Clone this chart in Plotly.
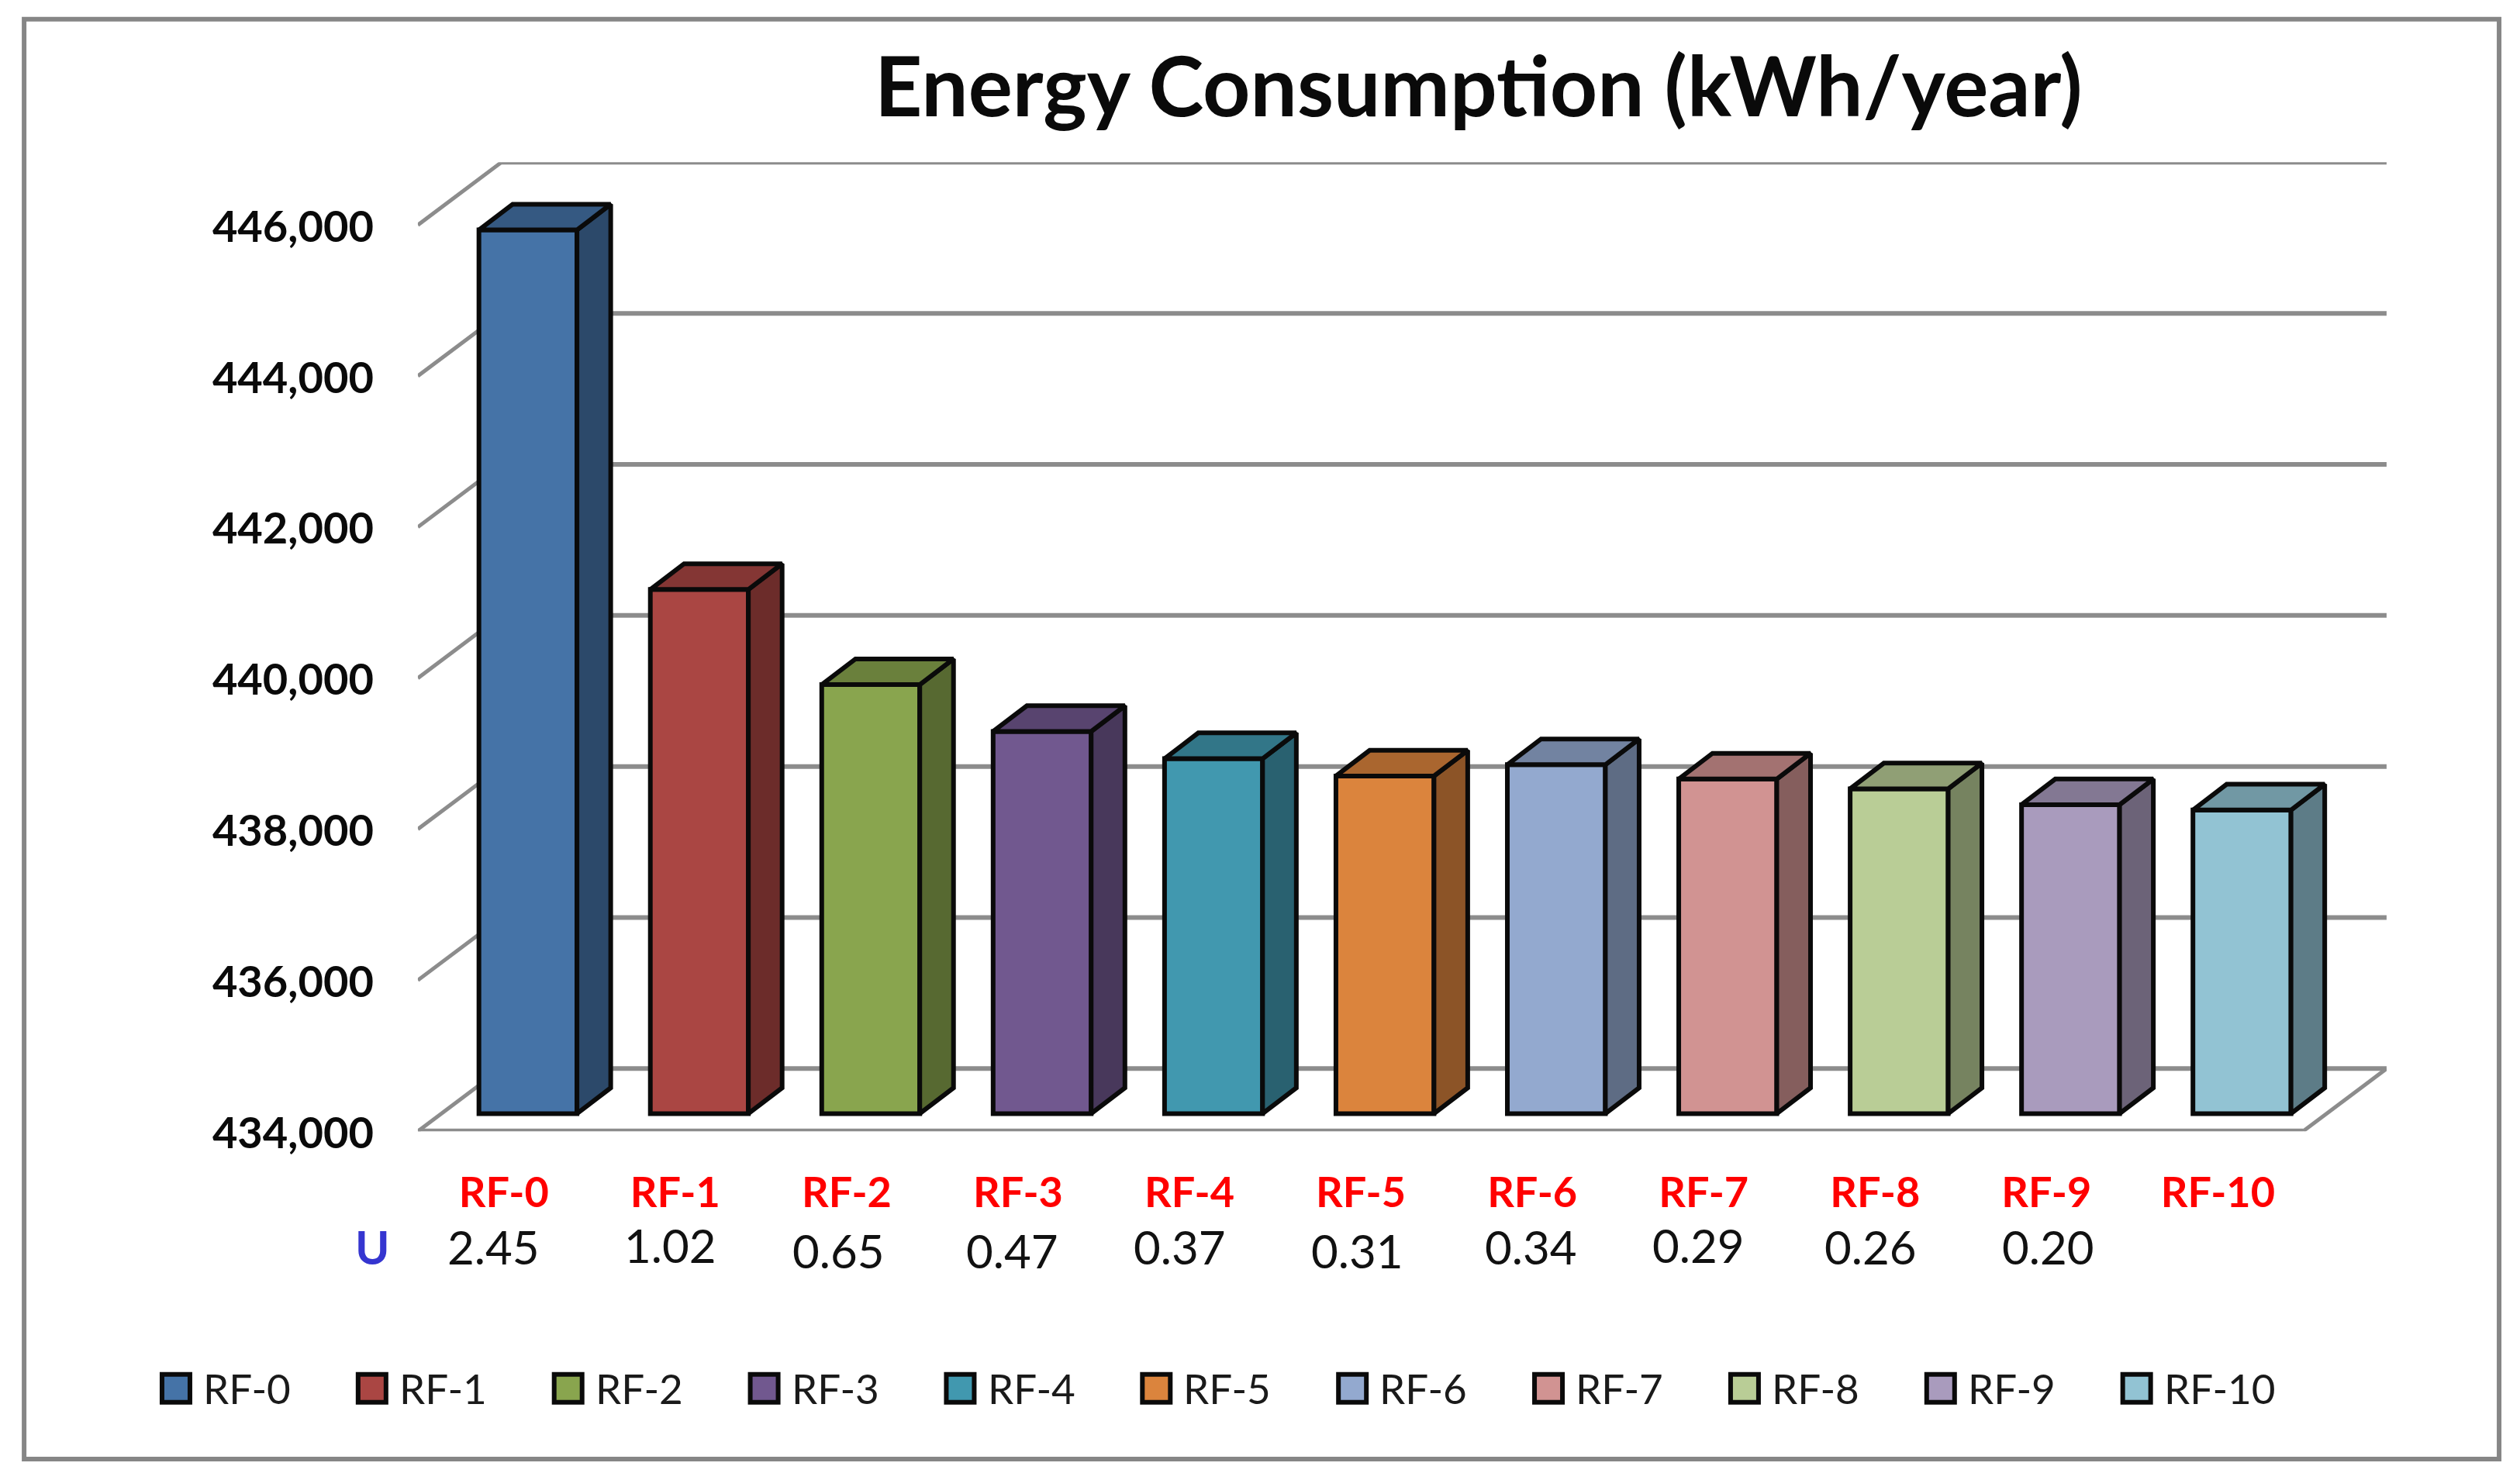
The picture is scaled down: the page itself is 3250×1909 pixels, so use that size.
import plotly.graph_objects as go

categories = ["RF-0", "RF-1", "RF-2", "RF-3", "RF-4", "RF-5", "RF-6", "RF-7", "RF-8", "RF-9", "RF-10"]
energy = [445700, 440940, 439680, 439060, 438700, 438470, 438620, 438430, 438300, 438090, 438020]
u_values = ["2.45", "1.02", "0.65", "0.47", "0.37", "0.31", "0.34", "0.29", "0.26", "0.20"]
y_ticks = [434000, 436000, 438000, 440000, 442000, 444000, 446000]
front_colors = ["#4573A7", "#AA4643", "#89A54E", "#71588F", "#4198AF", "#DB843D",
                "#93A9CF", "#D19392", "#B9CD96", "#A99BBD", "#92C3D3"]

W, H = 3250, 1909
S = W / 1568                # reference layout was measured on a 1568-wide view
FONT = "Lato"
GRID = "#8C8C8C"
EDGE = "#0A0A0A"


def fx(px):
    return px * S / W


def fy(px):
    return 1 - px * S / H


# layout geometry
PLOT_L, PLOT_R, PLOT_T, PLOT_B = 260, 1485, 101, 704
PITCH = 106.65              # px per category
FIRST_CENTER = 328.5        # px of first bar centre
UNIT = 564 / 12000          # px per kWh
Y0 = y_ticks[0]


def dxc(px):
    return px / PITCH


def dyv(px):
    return px / UNIT


x_min = -dxc(FIRST_CENTER - PLOT_L)
x_max = x_min + dxc(PLOT_R - PLOT_L)
y_max = Y0 + dyv(PLOT_B - PLOT_T)

BAR_W = dxc(61)
LIFT = dyv(11)              # bar plane sits above the front floor edge
DEPTH_X, DEPTH_Y = dxc(21), dyv(16)
WALL_X, WALL_Y = dxc(52), dyv(39)


def shade(hex_color, f):
    r, g, b = (int(hex_color[i:i + 2], 16) for i in (1, 3, 5))
    return f"rgb({int(r * f)},{int(g * f)},{int(b * f)})"


fig = go.Figure()

# back wall, side wall and floor
shapes = []
for t in y_ticks:
    back = t + WALL_Y
    shapes.append(dict(type="line", xref="x", yref="y", layer="below",
                       x0=x_min, y0=t, x1=x_min + WALL_X, y1=back,
                       line=dict(color=GRID, width=5)))
    shapes.append(dict(type="line", xref="x", yref="y", layer="below",
                       x0=x_min + WALL_X, y0=back, x1=x_max, y1=back,
                       line=dict(color=GRID, width=6)))
shapes.append(dict(type="line", xref="x", yref="y", layer="below",
                   x0=x_min, y0=Y0, x1=x_max - WALL_X, y1=Y0,
                   line=dict(color=GRID, width=7)))
shapes.append(dict(type="line", xref="x", yref="y", layer="below",
                   x0=x_max - WALL_X, y0=Y0, x1=x_max, y1=Y0 + WALL_Y,
                   line=dict(color=GRID, width=5)))
# outer frame
shapes.append(dict(type="rect", xref="paper", yref="paper", layer="below",
                   x0=fx(15), x1=fx(1555), y0=fy(908), y1=fy(12),
                   line=dict(color="#868686", width=6), fillcolor="rgba(0,0,0,0)"))

# bars: front face through the bar trace, depth faces from the same values
for i, (name, value, color) in enumerate(zip(categories, energy, front_colors)):
    base = Y0 + LIFT
    top = value + LIFT
    left, right = i - BAR_W / 2, i + BAR_W / 2
    fig.add_trace(go.Bar(x=[i], y=[value - Y0], base=[base], width=[BAR_W], name=name,
                         marker=dict(color=color, line=dict(color=EDGE, width=6)),
                         showlegend=False))
    fig.add_trace(go.Scatter(x=[right, right + DEPTH_X, right + DEPTH_X, right, right],
                             y=[base, base + DEPTH_Y, top + DEPTH_Y, top, base],
                             mode="lines", fill="toself", fillcolor=shade(color, 0.64),
                             line=dict(color=EDGE, width=6), showlegend=False, hoverinfo="skip"))
    fig.add_trace(go.Scatter(x=[left, left + DEPTH_X, right + DEPTH_X, right, left],
                             y=[top, top + DEPTH_Y, top + DEPTH_Y, top, top],
                             mode="lines", fill="toself", fillcolor=shade(color, 0.78),
                             line=dict(color=EDGE, width=6), showlegend=False, hoverinfo="skip"))

# legend swatches, on their own full-page axis pair
LEGEND_FIRST, LEGEND_PITCH, LEGEND_Y = 109.5, 122, 864
for i, (name, color) in enumerate(zip(categories, front_colors)):
    fig.add_trace(go.Scatter(x=[fx(LEGEND_FIRST + LEGEND_PITCH * i)], y=[fy(LEGEND_Y)],
                             xaxis="x2", yaxis="y2", mode="markers", name=name,
                             marker=dict(symbol="square", size=36, color=color,
                                         line=dict(color=EDGE, width=6)),
                             showlegend=False, hoverinfo="skip"))

# legend labels
annotations = [dict(x=fx(LEGEND_FIRST + LEGEND_PITCH * i + 16), y=fy(LEGEND_Y),
                    xref="paper", yref="paper", text=name, showarrow=False,
                    xanchor="left", yanchor="middle",
                    font=dict(family=FONT, size=53, color="#1A1A1A"))
               for i, name in enumerate(categories)]

# U row
u_nudge_x = [-21.5, -18, -20, -18.5, -21, -17, -16, -18, -18, -14]
u_row_y = [776, 775, 778, 778, 776, 778, 776, 775, 776, 776]
annotations += [dict(x=fx(FIRST_CENTER + PITCH * i + u_nudge_x[i]), y=fy(u_row_y[i]),
                     xref="paper", yref="paper",
                     text=u, showarrow=False, xanchor="center", yanchor="middle",
                     font=dict(family=FONT, size=60, color="#111111"))
                for i, u in enumerate(u_values)]
annotations.append(dict(x=fx(232), y=fy(776), xref="paper", yref="paper",
                        text="<b>U</b>", showarrow=False, xanchor="center", yanchor="middle",
                        font=dict(family=FONT, size=60, color="#3535D0")))

fig.update_layout(
    width=W, height=H, autosize=False,
    margin=dict(l=0, r=0, t=0, b=0, pad=0, autoexpand=False),
    paper_bgcolor="white", plot_bgcolor="rgba(0,0,0,0)",
    barmode="overlay", showlegend=False,
    shapes=shapes, annotations=annotations,
    title=dict(text="<b>Energy Consumption (kWh/year)</b>", x=fx(920), xanchor="center",
               y=fy(54.5), yanchor="middle",
               font=dict(family=FONT, size=107, color="#0A0A0A")),
    xaxis=dict(domain=[fx(PLOT_L), fx(PLOT_R)], range=[x_min, x_max], automargin=False,
               tickmode="array", tickvals=[i - dxc(15) for i in range(len(categories))],
               ticktext=[f"<b>{c}</b>" for c in categories], showgrid=False, zeroline=False,
               showline=False, ticks="", ticklabelstandoff=43,
               tickfont=dict(family=FONT, size=54, color="#FF0000")),
    yaxis=dict(domain=[fy(PLOT_B), fy(PLOT_T)], range=[Y0, y_max], automargin=False,
               tickmode="array", tickvals=y_ticks,
               ticktext=[f"<b>{t:,}</b>" for t in y_ticks], showgrid=False, zeroline=False,
               showline=False, ticks="", ticklabelstandoff=56, ticklabelshift=2,
               tickfont=dict(family=FONT, size=56, color="#0A0A0A")),
    xaxis2=dict(domain=[0, 1], range=[0, 1], anchor="y2", visible=False),
    yaxis2=dict(domain=[0, 1], range=[0, 1], anchor="x2", visible=False),
)

fig.write_html("out.html", config={"displayModeBar": False},
               post_script="document.body.style.margin='0';document.documentElement.style.overflow='hidden';")
